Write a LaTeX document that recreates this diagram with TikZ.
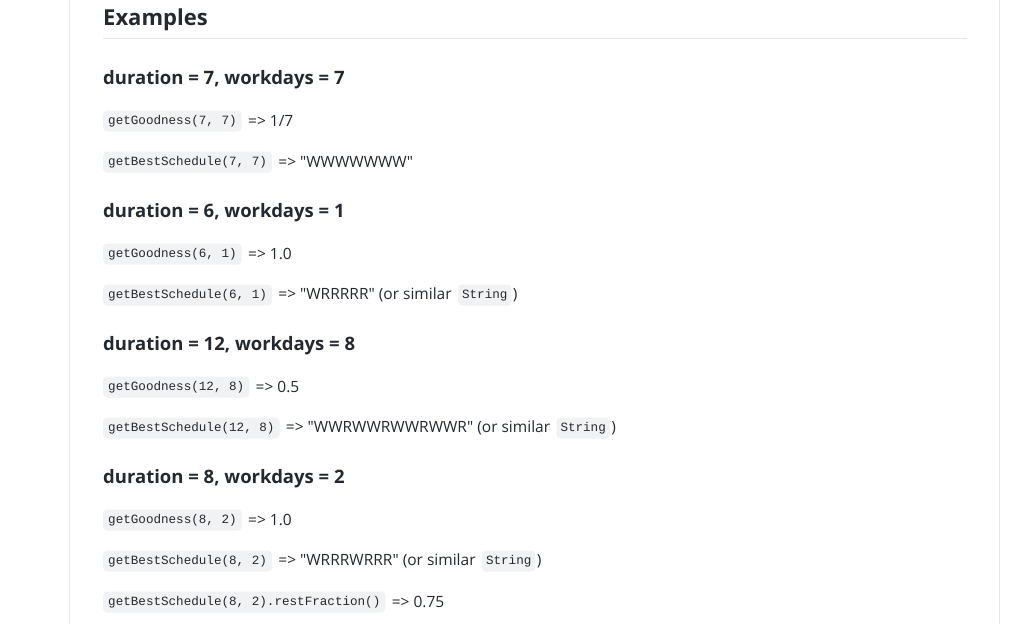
\documentclass[tikz,border=0pt]{standalone}
\usepackage{fontspec}
\setmainfont{Open Sans}
\setmonofont{Liberation Mono}
\definecolor{txt}{HTML}{24292F}
\definecolor{codebg}{HTML}{F1F2F3}
\definecolor{rule}{HTML}{E4E6E8}
\newcommand{\dq}{\textquotedbl}
\begin{document}
\begin{tikzpicture}[x=1pt,y=-1pt,
  code/.style={fill=codebg,rounded corners=4pt,inner xsep=5pt,inner ysep=0pt,minimum height=21pt,anchor=west,font=\ttfamily\fontsize{12.6}{14}\selectfont,text=txt},
  body/.style={anchor=west,inner xsep=6pt,inner ysep=0pt,font=\fontsize{15.5}{18}\selectfont,text=txt},
  head/.style={anchor=west,inner sep=0pt,font=\bfseries\fontsize{18.5}{23}\selectfont,text=txt}]
\useasboundingbox (0,0) rectangle (1024,624);
\fill[white] (0,0) rectangle (1024,624);
\draw[rule] (69.5,0) -- (69.5,624);
\draw[rule] (999.5,0) -- (999.5,624);
\node[anchor=west,inner sep=0pt,font=\fontsize{22}{27}\selectfont\bfseries,text=txt] (ex) at (103,20) {Examples};
\draw[rule] (103,38.5) -- (967,38.5);
\node[head] (h1) at (103,80) {duration = 7, workdays = 7};
\node[code] (c1) at (103,121) {getGoodness(7, 7)};
\node[body] (t1) at (c1.east) {=> 1/7};
\node[code] (c2) at (103,162) {getBestSchedule(7, 7)};
\node[body] (t2) at (c2.east) {=> \dq WWWWWWW\dq};
\node[head] (h2) at (103,213) {duration = 6, workdays = 1};
\node[code] (c3) at (103,254) {getGoodness(6, 1)};
\node[body] (t3) at (c3.east) {=> 1.0};
\node[code] (c4) at (103,295) {getBestSchedule(6, 1)};
\node[body] (t4) at (c4.east) {=> \dq WRRRRR\dq{} (or similar};
\node[code,inner xsep=4pt] (s4) at (t4.east) {String};
\node[body,inner xsep=1pt] (e4) at (s4.east) {)};
\node[head] (h3) at (103,346) {duration = 12, workdays = 8};
\node[code] (c5) at (103,387) {getGoodness(12, 8)};
\node[body] (t5) at (c5.east) {=> 0.5};
\node[code] (c6) at (103,428) {getBestSchedule(12, 8)};
\node[body] (t6) at (c6.east) {=> \dq WWRWWRWWRWWR\dq{} (or similar};
\node[code,inner xsep=4pt] (s6) at (t6.east) {String};
\node[body,inner xsep=1pt] (e6) at (s6.east) {)};
\node[head] (h4) at (103,479) {duration = 8, workdays = 2};
\node[code] (c7) at (103,520) {getGoodness(8, 2)};
\node[body] (t7) at (c7.east) {=> 1.0};
\node[code] (c8) at (103,561) {getBestSchedule(8, 2)};
\node[body] (t8) at (c8.east) {=> \dq WRRRWRRR\dq{} (or similar};
\node[code,inner xsep=4pt] (s8) at (t8.east) {String};
\node[body,inner xsep=1pt] (e8) at (s8.east) {)};
\node[code] (c9) at (103,602) {getBestSchedule(8, 2).restFraction()};
\node[body] (t9) at (c9.east) {=> 0.75};
\end{tikzpicture}
\end{document}
